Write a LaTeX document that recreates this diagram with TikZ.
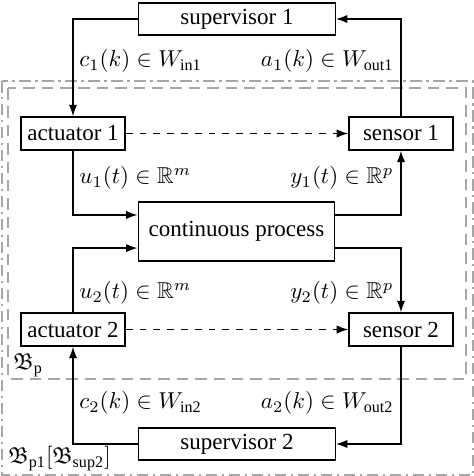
\documentclass[tikz,border=0pt]{standalone}
\usepackage{amssymb}
\usepackage{fontspec}
\setmainfont{Liberation Serif}
\usetikzlibrary{arrows.meta}

\begin{document}
\begin{tikzpicture}[x=0.435pt, y=-0.435pt, >={Latex[length=5pt,width=3.6pt]},
		block/.style={draw, semithick, inner sep=0pt, minimum height=14pt},
		wide/.style={block, minimum width=85.5pt},
		small/.style={block, minimum width=45.3pt},
		lbl/.style={inner sep=0pt}]

				\useasboundingbox (0,0) rectangle (474,476);

				\draw[gray!70, line width=0.9pt, dash pattern=on 5pt off 2pt on 1pt off 2pt] (2,81) rectangle (473,475);
				\draw[gray!70, line width=0.8pt, dash pattern=on 5pt off 3pt] (8,88) rectangle (466,379);

				\node[wide] (sup1) at (237,19) {supervisor 1};
				\node[small, minimum height=14.4pt] (act1) at (73,133.5) {actuator 1};
				\node[small, minimum height=14.4pt] (sen1) at (401,133.5) {sensor 1};
				\node[wide, minimum height=25.7pt] (proc) at (236.5,231.5) {continuous process};
				\node[small, minimum height=14.4pt] (act2) at (73,329.5) {actuator 2};
				\node[small, minimum height=14.4pt] (sen2) at (401,329.5) {sensor 2};
				\node[wide] (sup2) at (237,444) {supervisor 2};

				\draw[->, semithick] (sup1.west) -| (act1.north);
				\draw[->, semithick] (sen1.north) |- (sup1.east);
				\draw[->, semithick, dashed] (act1) -- (sen1);
				\draw[->, semithick] (act1.south) |- ([yshift=7.2pt]proc.west);
				\draw[->, semithick] ([yshift=7.2pt]proc.east) -| (sen1.south);
				\draw[->, semithick] (act2.north) |- ([yshift=-7.2pt]proc.west);
				\draw[->, semithick] ([yshift=-7.2pt]proc.east) -| (sen2.north);
				\draw[->, semithick, dashed] (act2) -- (sen2);
				\draw[->, semithick] (sen2.south) |- (sup2.east);
				\draw[->, semithick] (sup2.west) -| (act2.south);

				\node[lbl, anchor=west] (c1) at (79,61) {$c_1(k) \in W_{\mathrm{in1}}$};
				\node[lbl, anchor=east] (a1) at (394,61) {$a_1(k) \in W_{\mathrm{out1}}$};
				\node[lbl, anchor=west] (u1) at (79,178) {$u_1(t) \in \mathbb{R}^m$};
				\node[lbl, anchor=east] (y1) at (394,178) {$y_1(t) \in \mathbb{R}^p$};
				\node[lbl, anchor=west] (u2) at (79,293) {$u_2(t) \in \mathbb{R}^m$};
				\node[lbl, anchor=east] (y2) at (394,293) {$y_2(t) \in \mathbb{R}^p$};
				\node[lbl, anchor=west] (c2) at (79,403) {$c_2(k) \in W_{\mathrm{in2}}$};
				\node[lbl, anchor=east] (a2) at (394,403) {$a_2(k) \in W_{\mathrm{out2}}$};

				\node[lbl, anchor=south west] (bp) at (13,377) {$\mathfrak{B}_{\mathrm{p}}$};
				\node[lbl, anchor=south west] (bp1) at (8,471) {$\mathfrak{B}_{\mathrm{p1}}[\mathfrak{B}_{\mathrm{sup2}}]$};
		\end{tikzpicture}
\end{document}
